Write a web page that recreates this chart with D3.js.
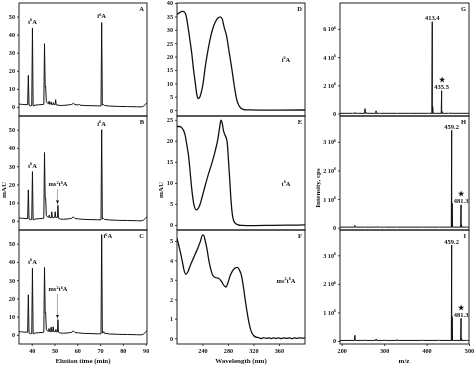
<!DOCTYPE html>
<html><head><meta charset="utf-8">
<script src="https://cdn.jsdelivr.net/npm/d3@7"></script>
<style>
body{margin:0;background:#fff}
svg{will-change:transform}
text{font-family:"Liberation Serif","Times New Roman",serif;font-weight:bold;fill:#111}
</style>
</head><body>
<svg id="c" width="474" height="366"></svg>
<script>
// ---------- DATA ----------
// Chromatograms: [elution time (min), mAU]
const chromA = [[34.4,1.6],[35,1.5],[36,1.4],[37,1.3],[38.2,1.3],[38.5,17.5],[38.8,1.0],[39.5,0.6],[40.0,0.8],[40.3,43.7],[40.6,0.6],[41.5,1.0],[43,1.2],[44.5,1.3],[45.3,1.5],[45.6,35],[45.9,11],[46.1,11.4],[46.4,3],[47,2],[47.4,1.8],[47.6,3.2],[47.8,1.6],[48.3,1.6],[48.5,2.8],[48.7,1.4],[49.3,1.5],[49.5,2.4],[49.7,1.3],[50.3,1.4],[50.5,4],[50.7,1.2],[51.5,1.0],[52.5,0.8],[54,0.9],[56,1.1],[57.5,1.4],[58.3,2.0],[59,1.3],[60.5,1.1],[60.8,1.5],[61.2,1.0],[63,0.8],[66,0.7],[69,0.6],[70.4,0.6],[70.7,46.7],[71.0,1.0],[71.5,1.3],[72,0.8],[74,0.5],[78,0.3],[82,0.2],[86,0.1],[88,0.0],[89,0.4],[90,1.5],[90.6,2.4]];
const chromB = [[34.4,1.6],[35,1.5],[36,1.4],[37,1.3],[38.2,1.3],[38.5,17],[38.8,1.0],[39.5,0.6],[40.0,0.8],[40.3,27],[40.6,0.6],[41.5,1.0],[43,1.2],[44.5,1.3],[45.3,1.5],[45.6,37.5],[45.9,12],[46.1,12.3],[46.4,3],[47,2],[47.5,2],[47.7,3.2],[47.9,1.8],[48.6,1.8],[48.8,5],[49.0,1.8],[50.1,2.0],[50.3,5],[50.5,1.9],[51.3,2.0],[51.5,8.5],[51.7,1.5],[52.5,1.0],[54,0.9],[56,1.1],[57.5,1.4],[58.3,2.2],[59,1.3],[60.5,1.1],[61.2,1.0],[63,0.8],[66,0.7],[69,0.6],[70.4,0.6],[70.7,50],[71.0,1.0],[71.5,1.3],[72,0.8],[74,0.5],[78,0.3],[82,0.2],[86,0.1],[88,0.0],[89,0.4],[90,1.5],[90.6,2.4]];
const chromC = [[34.4,1.8],[35,1.7],[36,1.6],[37,1.5],[38.2,1.5],[38.5,22],[38.8,1.0],[39.5,0.6],[40.0,0.8],[40.3,36.5],[40.6,0.6],[41.5,1.0],[43,1.2],[44.5,1.3],[45.3,1.5],[45.6,37],[45.9,12],[46.1,12.3],[46.4,3],[47,2],[47.4,2],[47.6,3.5],[47.8,1.8],[48.3,1.8],[48.5,4.2],[48.7,1.8],[49.2,1.9],[49.4,4.5],[49.6,1.8],[50.4,1.8],[50.6,3],[50.8,1.6],[51.3,1.8],[51.5,8.3],[51.7,1.5],[52.5,1.0],[54,0.9],[56,1.1],[57.5,1.4],[58.3,2.2],[59,1.3],[60.5,1.1],[61.2,1.0],[63,0.8],[66,0.7],[69,0.6],[70.4,0.6],[70.7,55],[71.0,1.0],[71.4,1.2],[71.6,1.8],[71.9,0.9],[74,0.5],[78,0.3],[82,0.2],[86,0.1],[88,0.0],[89,0.4],[90,1.5],[90.6,2.4]];

// UV spectra: [wavelength (nm), mAU]
const specD = [[200,35.7],[204,36.4],[208,36.9],[211,36.8],[214,35.5],[218,30],[221,25],[223,21.5],[226,15],[229,9.6],[231,6],[233,4.3],[235,4.5],[238,6.5],[241,10],[244,15.6],[248,21.5],[252,26.5],[256,30.3],[260,32.8],[264,34.3],[268,34.8],[271,34],[274,31],[278,27.5],[282,21.5],[286,15.6],[290,9],[294,3.7],[297,1.8],[300,0.8],[304,0.3],[308,0.1],[315,0.05],[330,0.0],[360,0.0],[401,0.05]];
const specE = [[200,23.4],[204,23.4],[208,23.0],[211,22.2],[213,21.2],[216,18.5],[218,16.6],[221,12],[223,8.8],[226,5.3],[228,4.0],[230,3.6],[233,3.9],[236,4.8],[239,6.4],[244,9.2],[249,11.9],[255,14.8],[260,17.6],[264,20.3],[267,23.2],[269,24.9],[271,24.2],[273,22.4],[275,21.5],[277,20.8],[279,19.4],[281,15],[283,10.3],[285,5.5],[287,2.4],[289,1.0],[291,0.5],[295,0.1],[301,-0.1],[320,-0.15],[350,-0.1],[380,-0.05],[401,0.0]];
const specF = [[200,5.14],[204,4.6],[208,4.0],[211,3.5],[214,3.28],[217,3.4],[221,3.75],[225,4.05],[229,4.35],[233,4.65],[237,5.0],[240,5.3],[242,5.3],[244,5.05],[247,4.6],[250,4.0],[253,3.55],[256,3.25],[260,3.12],[265,3.08],[268,3.0],[271,2.85],[274,2.7],[277,2.63],[280,2.85],[283,3.17],[287,3.45],[291,3.6],[295,3.64],[298,3.5],[301,3.25],[304,2.7],[307,2.0],[310,1.35],[313,0.8],[316,0.4],[320,0.15],[324,0.05],[328,0.03],[332,-0.02],[336,0.03],[340,-0.01],[344,0.02],[348,-0.02],[352,0.02],[356,-0.01],[360,0.01],[364,-0.02],[368,0.02],[372,-0.01],[376,0.02],[380,-0.02],[384,0.01],[388,-0.01],[392,0.02],[396,0.0],[401,0.01]];

// Mass spectra peaks: [m/z, intensity (cps)]
const msG = [[225,0.05e6],[231,0.08e6],[238,0.04e6],[255,0.35e6],[258,0.08e6],[281,0.2e6],[290,0.04e6],[330,0.03e6],[360,0.03e6],[404,0.03e6],[413.4,6.5e6],[414.4,0.5e6],[435.5,1.62e6],[436.5,0.15e6],[451,0.05e6],[458,0.06e6]];
const msH = [[231,0.08e6],[255,0.03e6],[281,0.04e6],[290,0.03e6],[300,0.03e6],[330,0.03e6],[390,0.02e6],[430,0.02e6],[459.2,3.4e6],[460.3,0.85e6],[481.3,0.8e6],[482.3,0.1e6],[495,0.03e6]];
const msI = [[231,0.2e6],[255,0.04e6],[281,0.07e6],[300,0.04e6],[330,0.05e6],[390,0.04e6],[430,0.03e6],[459.2,3.36e6],[460.3,0.85e6],[481.3,0.79e6],[482.3,0.1e6],[495,0.03e6]];

// Tick values / labels
const chromTicksX = [40,50,60,70,80,90];
const chromTicksY = [0,10,20,30,40,50];
const uvTicksX = [240,280,320,360];
const uvTicksYD = [0,5,10,15,20,25,30,35,40];
const uvTicksYE = [0,5,10,15,20,25];
const uvTicksYF = [0,1,2,3,4,5];
const msTicksX = [200,300,400,500];
const msTicksYG = [0,2e6,4e6,6e6];
const msTicksYHI = [0,1e6,2e6,3e6];
const panelLetters = ["A","B","C","D","E","F","G","H","I"];

// ---------- DRAW ----------
const svg = d3.select("#c");
const cols = {L:[19,147], M:[177,305], R:[340,469]};
const rows = [[3,116],[116,230],[230,344]];

function rich(sel, str, fs){
  const parts = [];
  for(let i=0;i<str.length;i++){
    if(str[i]==="^"){ parts.push({t:str[i+1],sup:true}); i++; }
    else { if(parts.length && !parts[parts.length-1].sup) parts[parts.length-1].t+=str[i]; else parts.push({t:str[i],sup:false}); }
  }
  let prevSup=false;
  parts.forEach(p=>{
    const ts = sel.append("tspan").text(p.t);
    if(p.sup){ ts.attr("font-size",fs*0.65).attr("dy",-fs*0.4); prevSup=true; }
    else { if(prevSup){ ts.attr("dy",fs*0.4);} prevSup=false; }
  });
}

function panel(col,row,xd,yd,xticks,yticks,yfmt,showX,letter){
  const [x0,x1]=cols[col],[y0,y1]=rows[row];
  const x=d3.scaleLinear().domain(xd).range([x0,x1]);
  const y=d3.scaleLinear().domain(yd).range([y1,y0]);
  const g=svg.append("g");
  const ya=d3.axisLeft(y).tickValues(yticks).tickSize(2).tickPadding(2).tickFormat(()=> "");
  const yg=g.append("g").attr("transform",`translate(${x0},0)`).call(ya);
  yg.select(".domain").remove();
  yg.selectAll("line").attr("stroke","#111").attr("stroke-width",0.8);
  yg.selectAll(".tick text").each(function(d){
    const t=d3.select(this).attr("font-size",6.2).attr("font-family",null).attr("fill","#111");
    rich(t, yfmt(d), 6.2);
  });
  if(showX){
    const xa=d3.axisBottom(x).tickValues(xticks).tickSize(2).tickPadding(3).tickFormat(d3.format("d"));
    const xg=g.append("g").attr("transform",`translate(0,${y1})`).call(xa);
    xg.select(".domain").remove();
    xg.selectAll("line").attr("stroke","#111").attr("stroke-width",0.8);
    xg.selectAll("text").attr("font-size",6.2).attr("font-family",null).attr("fill","#111");
  }
  g.append("rect").attr("x",x0).attr("y",y0).attr("width",x1-x0).attr("height",y1-y0)
    .attr("fill","none").attr("stroke","#222").attr("stroke-width",1);
  g.append("text").attr("x",x1-3).attr("y",y0+8).attr("text-anchor","end").attr("font-size",6.5).text(letter);
  const clip="clip"+letter;
  svg.append("clipPath").attr("id",clip).append("rect").attr("x",x0).attr("y",y0).attr("width",x1-x0).attr("height",y1-y0);
  const plot=g.append("g").attr("clip-path",`url(#${clip})`);
  return {x,y,g,plot};
}

const fmtN = d=>String(d);
const fmtE6 = d=> d===0 ? "0" : (d/1e6)+" 10^6";

// Chromatograms
const chroms=[chromA,chromB,chromC];
const chromPanels = chroms.map((data,i)=>{
  const p=panel("L",i,[34.4,90.6],[-5,57.5],chromTicksX,chromTicksY,fmtN,i===2,panelLetters[i]);
  p.plot.append("path").datum(data).attr("fill","none").attr("stroke","#111").attr("stroke-width",1)
    .attr("d",d3.line().x(d=>p.x(d[0])).y(d=>p.y(d[1])));
  return p;
});
function label(p,xv,yv,str,fs,anchor){
  const t=p.g.append("text").attr("x",p.x(xv)).attr("y",p.y(yv)).attr("text-anchor",anchor||"middle").attr("font-size",fs);
  rich(t,str,fs);
}
label(chromPanels[0],40.3,46,"t^6A",6.5);
label(chromPanels[0],70.7,49,"i^6A",6.5);
label(chromPanels[1],40.3,29,"t^6A",6.5);
label(chromPanels[1],70.7,52,"i^6A",6.5);
label(chromPanels[2],40.3,39,"t^6A",6.5);
label(chromPanels[2],71.5,53,"i^6A",6.5,"start");
[[1,19,17.5,9.5],[2,24,22.5,9.3]].forEach(([i,ly,a0,a1])=>{
  const p=chromPanels[i];
  label(p,51.5,ly,"ms^2t^6A",6.5);
  const xx=p.x(51.3);
  p.g.append("line").attr("x1",xx).attr("x2",xx).attr("y1",p.y(a0)).attr("y2",p.y(a1)+2).attr("stroke","#777").attr("stroke-width",0.6);
  const yt=p.y(a1);
  p.g.append("path").attr("d",`M${xx-1.6},${yt-3}L${xx+1.6},${yt-3}L${xx},${yt}Z`).attr("fill","#111");
});

// UV spectra
const uvs=[[specD,[-2.2,40],uvTicksYD,"i^6A"],[specE,[-1.2,25.9],uvTicksYE,"t^6A"],[specF,[-0.3,5.56],uvTicksYF,"ms^2t^6A"]];
uvs.forEach(([data,yd,yt,name],i)=>{
  const p=panel("M",i,[200,401],yd,uvTicksX,yt,fmtN,i===2,panelLetters[3+i]);
  p.plot.append("path").datum(data).attr("fill","none").attr("stroke","#111").attr("stroke-width",1.3)
    .attr("d",d3.line().curve(d3.curveMonotoneX).x(d=>p.x(d[0])).y(d=>p.y(d[1])));
  const t=p.g.append("text").attr("x",286).attr("y",[62,186,283][i]).attr("text-anchor","middle").attr("font-size",6.5);
  rich(t,name,6.5);
});

// Mass spectra
const mss=[[msG,[-0.17e6,7.83e6],msTicksYG],[msH,[-0.08e6,3.9e6],msTicksYHI],[msI,[-0.105e6,3.885e6],msTicksYHI]];
const msPanels = mss.map(([data,yd,yt],i)=>{
  const p=panel("R",i,[196,500],yd,msTicksX,yt,fmtE6,i===2,panelLetters[6+i]);
  const pts=[[196,0.02e6]];
  data.forEach(([m,v])=>{ pts.push([m-0.9,0.02e6],[m,v],[m+0.9,0.02e6]); });
  pts.push([500,0.02e6]);
  pts.sort((a,b)=>a[0]-b[0]);
  p.plot.append("path").datum(pts).attr("fill","none").attr("stroke","#111").attr("stroke-width",1)
    .attr("d",d3.line().x(d=>p.x(d[0])).y(d=>p.y(d[1])));
  return p;
});
function msLabel(p,m,v,str,star){
  const yy=p.y(v);
  p.g.append("text").attr("x",p.x(m)).attr("y",yy-1.5).attr("text-anchor","middle").attr("font-size",6.5).text(str);
  if(star) p.g.append("text").attr("x",p.x(m)).attr("y",yy-8.5).attr("text-anchor","middle").attr("font-size",7).text("★");
}
msLabel(msPanels[0],413.4,6.5e6,"413.4",false);
msLabel(msPanels[0],435.5,1.62e6,"435.5",true);
msLabel(msPanels[1],459.2,3.4e6,"459.2",false);
msLabel(msPanels[1],481.3,0.8e6,"481.3",true);
msLabel(msPanels[2],459.2,3.36e6,"459.2",false);
msLabel(msPanels[2],481.3,0.79e6,"481.3",true);

// Axis titles
svg.append("text").attr("transform","translate(6,190) rotate(-90)").attr("text-anchor","middle").attr("font-size",7).text("mAU");
svg.append("text").attr("transform","translate(163,190) rotate(-90)").attr("text-anchor","middle").attr("font-size",7).text("mAU");
svg.append("text").attr("transform","translate(320,188) rotate(-90)").attr("text-anchor","middle").attr("font-size",7).text("Intensity, cps");
svg.append("text").attr("x",83).attr("y",363).attr("text-anchor","middle").attr("font-size",7).text("Elution time (min)");
svg.append("text").attr("x",241).attr("y",363).attr("text-anchor","middle").attr("font-size",7).text("Wavelength (nm)");
svg.append("text").attr("x",404).attr("y",363).attr("text-anchor","middle").attr("font-size",7).text("m/z");
</script>
</body></html>
